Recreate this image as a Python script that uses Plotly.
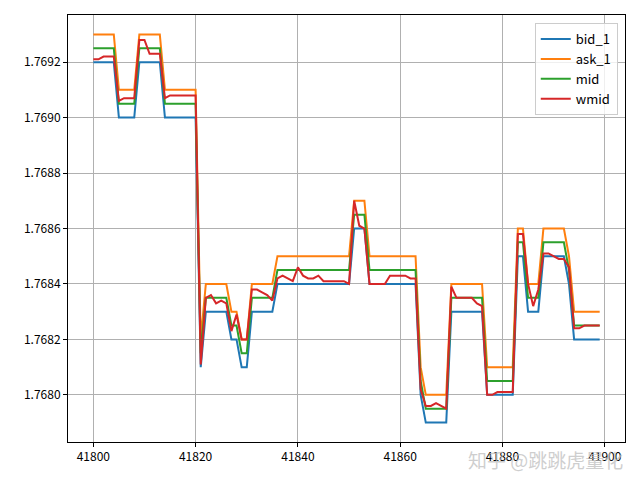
import plotly.graph_objects as go

x_start = 41800
n_points = 100
x_vals = list(range(x_start, x_start + n_points))

bid_1 = [
    1.7692, 1.7692, 1.7692, 1.7692, 1.7692, 1.7690, 1.7690, 1.7690, 1.7690, 1.7692,
    1.7692, 1.7692, 1.7692, 1.7692, 1.7690, 1.7690, 1.7690, 1.7690, 1.7690, 1.7690,
    1.7690, 1.7681, 1.7683, 1.7683, 1.7683, 1.7683, 1.7683, 1.7682, 1.7682, 1.7681,
    1.7681, 1.7683, 1.7683, 1.7683, 1.7683, 1.7683, 1.7684, 1.7684, 1.7684, 1.7684,
    1.7684, 1.7684, 1.7684, 1.7684, 1.7684, 1.7684, 1.7684, 1.7684, 1.7684, 1.7684,
    1.7684, 1.7686, 1.7686, 1.7686, 1.7684, 1.7684, 1.7684, 1.7684, 1.7684, 1.7684,
    1.7684, 1.7684, 1.7684, 1.7684, 1.7680, 1.7679, 1.7679, 1.7679, 1.7679, 1.7679,
    1.7683, 1.7683, 1.7683, 1.7683, 1.7683, 1.7683, 1.7683, 1.7680, 1.7680, 1.7680,
    1.7680, 1.7680, 1.7680, 1.7685, 1.7685, 1.7683, 1.7683, 1.7683, 1.7685, 1.7685,
    1.7685, 1.7685, 1.7685, 1.7684, 1.7682, 1.7682, 1.7682, 1.7682, 1.7682, 1.7682,
]

ask_1 = [
    1.7693, 1.7693, 1.7693, 1.7693, 1.7693, 1.7691, 1.7691, 1.7691, 1.7691, 1.7693,
    1.7693, 1.7693, 1.7693, 1.7693, 1.7691, 1.7691, 1.7691, 1.7691, 1.7691, 1.7691,
    1.7691, 1.7682, 1.7684, 1.7684, 1.7684, 1.7684, 1.7684, 1.7683, 1.7683, 1.7682,
    1.7682, 1.7684, 1.7684, 1.7684, 1.7684, 1.7684, 1.7685, 1.7685, 1.7685, 1.7685,
    1.7685, 1.7685, 1.7685, 1.7685, 1.7685, 1.7685, 1.7685, 1.7685, 1.7685, 1.7685,
    1.7685, 1.7687, 1.7687, 1.7687, 1.7685, 1.7685, 1.7685, 1.7685, 1.7685, 1.7685,
    1.7685, 1.7685, 1.7685, 1.7685, 1.7681, 1.7680, 1.7680, 1.7680, 1.7680, 1.7680,
    1.7684, 1.7684, 1.7684, 1.7684, 1.7684, 1.7684, 1.7684, 1.7681, 1.7681, 1.7681,
    1.7681, 1.7681, 1.7681, 1.7686, 1.7686, 1.7684, 1.7684, 1.7684, 1.7686, 1.7686,
    1.7686, 1.7686, 1.7686, 1.7685, 1.7683, 1.7683, 1.7683, 1.7683, 1.7683, 1.7683,
]

mid = [
    1.76925, 1.76925, 1.76925, 1.76925, 1.76925, 1.76905, 1.76905, 1.76905, 1.76905, 1.76925,
    1.76925, 1.76925, 1.76925, 1.76925, 1.76905, 1.76905, 1.76905, 1.76905, 1.76905, 1.76905,
    1.76905, 1.76815, 1.76835, 1.76835, 1.76835, 1.76835, 1.76835, 1.76825, 1.76825, 1.76815,
    1.76815, 1.76835, 1.76835, 1.76835, 1.76835, 1.76835, 1.76845, 1.76845, 1.76845, 1.76845,
    1.76845, 1.76845, 1.76845, 1.76845, 1.76845, 1.76845, 1.76845, 1.76845, 1.76845, 1.76845,
    1.76845, 1.76865, 1.76865, 1.76865, 1.76845, 1.76845, 1.76845, 1.76845, 1.76845, 1.76845,
    1.76845, 1.76845, 1.76845, 1.76845, 1.76805, 1.76795, 1.76795, 1.76795, 1.76795, 1.76795,
    1.76835, 1.76835, 1.76835, 1.76835, 1.76835, 1.76835, 1.76835, 1.76805, 1.76805, 1.76805,
    1.76805, 1.76805, 1.76805, 1.76855, 1.76855, 1.76835, 1.76835, 1.76835, 1.76855, 1.76855,
    1.76855, 1.76855, 1.76855, 1.76845, 1.76825, 1.76825, 1.76825, 1.76825, 1.76825, 1.76825,
]

wmid = [
    1.76921, 1.76921, 1.76922, 1.76922, 1.76922, 1.76906, 1.76907, 1.76907, 1.76907, 1.76928,
    1.76928, 1.76923, 1.76923, 1.76923, 1.76907, 1.76908, 1.76908, 1.76908, 1.76908, 1.76908,
    1.76908, 1.76811, 1.76835, 1.76836, 1.76833, 1.76834, 1.76833, 1.76823, 1.76829, 1.76820,
    1.76820, 1.76838, 1.76838, 1.76837, 1.76836, 1.76834, 1.76842, 1.76843, 1.76842, 1.76841,
    1.76846, 1.76843, 1.76842, 1.76842, 1.76843, 1.76841, 1.76841, 1.76841, 1.76841, 1.76841,
    1.76840, 1.76870, 1.76861, 1.76860, 1.76840, 1.76840, 1.76840, 1.76840, 1.76843, 1.76843,
    1.76843, 1.76843, 1.76842, 1.76842, 1.76802, 1.76796, 1.76796, 1.76797, 1.76796, 1.76795,
    1.76839, 1.76835, 1.76835, 1.76835, 1.76835, 1.76833, 1.76832, 1.76800, 1.76800, 1.76801,
    1.76801, 1.76801, 1.76801, 1.76858, 1.76858, 1.76840, 1.76832, 1.76838, 1.76851, 1.76851,
    1.76850, 1.76849, 1.76849, 1.76846, 1.76824, 1.76824, 1.76825, 1.76825, 1.76825, 1.76825,
]

series_names = ["bid_1", "ask_1", "mid", "wmid"]
series_colors = ["#1f77b4", "#ff7f0e", "#2ca02c", "#d62728"]
series_data = [bid_1, ask_1, mid, wmid]

x_ticks = [41800, 41820, 41840, 41860, 41880, 41900]
y_ticks = [1.7680, 1.7682, 1.7684, 1.7686, 1.7688, 1.7690, 1.7692]

font_family = "Noto Sans CJK SC, DejaVu Sans, sans-serif"

fig = go.Figure()
for name, color, ys in zip(series_names, series_colors, series_data):
    fig.add_trace(go.Scatter(x=x_vals, y=ys, mode="lines", name=name,
                             line=dict(color=color, width=2)))

xmin, xmax = min(x_vals), max(x_vals)
xpad = (xmax - xmin) * 0.05
all_y = bid_1 + ask_1 + mid + wmid
ymin, ymax = min(all_y), max(all_y)
ypad = (ymax - ymin) * 0.05

axis_common = dict(
    showline=True, linecolor="black", linewidth=1, mirror=True,
    ticks="outside", ticklen=4, tickcolor="black",
    showgrid=True, gridcolor="#b0b0b0", gridwidth=1,
    zeroline=False,
    tickfont=dict(family=font_family, size=12, color="black"),
)

fig.update_layout(
    width=640, height=480,
    margin=dict(l=68, r=15, t=15, b=38),
    paper_bgcolor="white", plot_bgcolor="white",
    font=dict(family=font_family, color="black"),
    xaxis=dict(range=[xmin - xpad, xmax + xpad], tickvals=x_ticks,
               tickformat="d", **axis_common),
    yaxis=dict(range=[ymin - ypad, ymax + ypad], tickvals=y_ticks,
               tickformat=".4f", **axis_common),
    legend=dict(x=0.987, y=0.981, xanchor="right", yanchor="top",
                bgcolor="rgba(255,255,255,0.8)", bordercolor="#cccccc",
                borderwidth=1, font=dict(family=font_family, size=13)),
    annotations=[dict(text="知乎 @跳跳虎量化", xref="paper", yref="paper",
                      x=1.0, y=-0.005, xanchor="right", yanchor="top",
                      showarrow=False,
                      font=dict(family=font_family, size=19,
                                color="rgba(190,190,190,0.75)"))],
)

fig.write_html("out.html", config={"displayModeBar": False})

with open("out.html", "r", encoding="utf-8") as f:
    html = f.read()
html = html.replace("<body>", '<body style="margin:0;padding:0;overflow:hidden">', 1)
with open("out.html", "w", encoding="utf-8") as f:
    f.write(html)
